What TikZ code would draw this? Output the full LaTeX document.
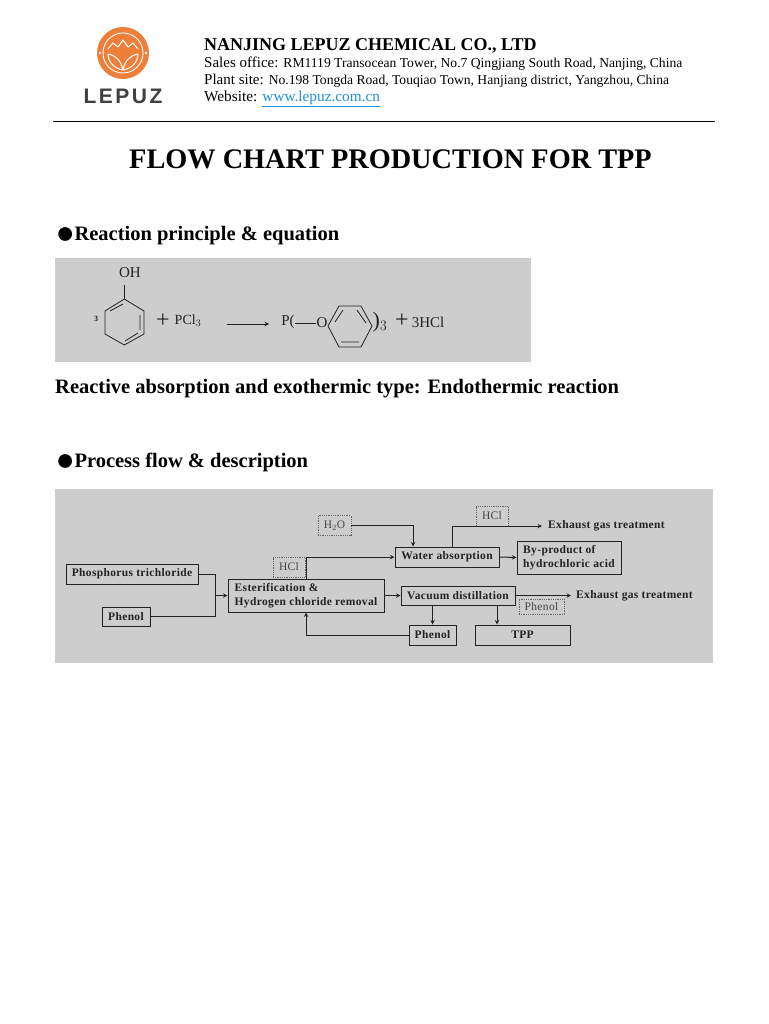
\documentclass[tikz,border=0pt]{standalone}
\usepackage{fontspec}
\setmainfont{Liberation Serif}
\newfontfamily\flowfont[LetterSpace=3]{Liberation Serif}
\newfontfamily\logofont[LetterSpace=12]{Liberation Sans}
\definecolor{panelgray}{HTML}{CDCDCD}
\definecolor{lepuzorange}{HTML}{EE7F3A}
\definecolor{inkdark}{HTML}{222222}
\definecolor{dashgray}{HTML}{666666}
\definecolor{linkblue}{HTML}{1E90D8}
\usepackage{tikz}
\newcommand{\bigdot}{\hspace{-1.5pt}\raisebox{-3pt}{\fontsize{32}{32}\selectfont ●}\hspace{-0.5pt}}

\begin{document}
\begin{tikzpicture}[x=1pt,y=-1pt,
    headtext/.style={anchor=west,inner sep=0pt,font=\fontsize{15}{17}\selectfont},
    sectext/.style={anchor=west,inner sep=0pt,font=\fontsize{20.5}{24}\selectfont\bfseries},
    procbox/.style={draw=inkdark,line width=1pt,inner sep=0pt,align=left,text=inkdark,
      font=\flowfont\fontsize{11.5}{13.5}\selectfont\bfseries},
    gasbox/.style={draw=dashgray,densely dotted,line width=0.8pt,inner sep=0pt,text=dashgray!70!black,
      font=\flowfont\fontsize{11.5}{13}\selectfont},
    chemtext/.style={inner sep=0pt,text=inkdark,font=\fontsize{14}{16}\selectfont},
    flow/.style={draw=inkdark,line width=1pt,-stealth},
    plain/.style={draw=inkdark,line width=1pt}]

    \useasboundingbox (0,0) rectangle (768,1024);

    % Logo
    \fill[lepuzorange] (123,53) circle (26);
    \draw[white,line width=0.9pt] (123,53) circle (20);
    \fill[white] (100,53) circle (1.3) (146,53) circle (1.3);
    \draw[white,line width=1pt,line join=round]
      (123,70) .. controls (112,68) and (108,60) .. (108,54)
      .. controls (115,55) and (121,60) .. (123,70)
      .. controls (134,68) and (138,60) .. (138,54)
      .. controls (131,55) and (125,60) .. (123,70);
    \draw[white,line width=1pt,line join=round]
      (108,49) -- (113,43) -- (118,47) -- (123,40) -- (128,47) -- (133,43) -- (138,49);
    \node[inner sep=0pt,text=black!75,font=\logofont\fontsize{21}{23}\selectfont\bfseries]
      (logotext) at (123,96) {LEPUZ};

    % Header
    \node[headtext,font=\fontsize{18}{20}\selectfont\bfseries] (company) at (204,45.5) {NANJING LEPUZ CHEMICAL CO., LTD};
    \node[headtext] (sales) at (204,63.5) {Sales office: {\fontsize{13.6}{16}\selectfont RM1119 Transocean Tower, No.7 Qingjiang South Road, Nanjing, China}};
    \node[headtext] (plant) at (204,80.5) {Plant site: {\fontsize{13.6}{16}\selectfont No.198 Tongda Road, Touqiao Town, Hanjiang district, Yangzhou, China}};
    \node[headtext,font=\fontsize{15.3}{17}\selectfont] (web) at (204,99) {Website: \textcolor{linkblue}{\underline{www.lepuz.com.cn}}};
    \draw[line width=0.7pt] (53,121) -- (715,121);

    \node[inner sep=0pt,font=\fontsize{28.3}{32}\selectfont\bfseries] (title) at (390.5,159) {FLOW CHART PRODUCTION FOR TPP};

    \node[sectext] (sec1) at (57,235.5) {\bigdot Reaction principle \& equation};
    \node[sectext] (sec2) at (55,388.5) {Reactive absorption and exothermic type: Endothermic reaction};
    \node[sectext] (sec3) at (57,462.5) {\bigdot Process flow \& description};

    % Equation panel
    \fill[panelgray] (55,258) rectangle (531,362);

    \draw[inkdark,line width=0.8pt] (124.3,299) -- (144,311) -- (144,334) -- (124.3,345)
      -- (105,334) -- (105,311) -- cycle;
    \draw[inkdark,line width=0.8pt] (124.3,299) -- (124.3,285);
    \draw[inkdark,line width=0.8pt] (140,315) -- (140,330) (125,341) -- (138,333) (110,311) -- (123,304);
    \node[chemtext,font=\fontsize{15}{17}\selectfont] (oh) at (130,273) {OH};
    \node[chemtext,font=\fontsize{8}{9}\selectfont\bfseries] (three) at (96,319) {3};
    \node[chemtext,font=\fontsize{24}{26}\selectfont] (plus1) at (163,321) {+};
    \node[chemtext] (pcl) at (188,321) {PCl$_3$};
    \coordinate (arrstart) at (227,324);
    \coordinate (arrend) at (269,324);
    \draw[flow] (arrstart) -- (arrend);
    \node[chemtext,font=\fontsize{15}{17}\selectfont] (pp) at (288,322) {P(};
    \node[chemtext,font=\fontsize{15}{17}\selectfont] (oo) at (322,323) {O};
    \draw[inkdark,line width=0.8pt] (pp.east) ++(0,1) -- (oo.west);
    \draw[inkdark,line width=0.8pt] (328,326) -- (339,306) -- (361,306) -- (372,326) -- (361,347) -- (339,347) -- cycle;
    \draw[inkdark,line width=0.8pt] (335,322) -- (343,310) (357,310) -- (366,323) (341,342) -- (359,342);
    \node[chemtext,font=\fontsize{22}{24}\selectfont] (close) at (380,322) {)$_3$};
    \node[chemtext,font=\fontsize{24}{26}\selectfont] (plus2) at (402,321) {+};
    \node[chemtext,font=\fontsize{15}{17}\selectfont] (hcl3) at (428,322) {3HCl};

    % Flow panel
    \fill[panelgray] (55,489) rectangle (713,663);

    \node[procbox,minimum width=132pt,minimum height=20pt] (phos) at (132,574) {Phosphorus trichloride};
    \node[procbox,minimum width=48pt,minimum height=19pt] (phenolin) at (126,616.5) {Phenol};
    \node[procbox,minimum width=156pt,minimum height=33pt,font=\flowfont\fontsize{11.5}{14}\selectfont\bfseries] (ester) at (306,595.5)
      {Esterification \&\\Hydrogen chloride removal};
    \node[gasbox,minimum width=32pt,minimum height=20pt] (hclone) at (289,567) {HCl};
    \node[gasbox,minimum width=33pt,minimum height=20pt] (water) at (334.5,525.5) {H$_2$O};
    \node[procbox,minimum width=104pt,minimum height=20pt] (absorb) at (447,557) {Water absorption};
    \node[procbox,minimum width=104pt,minimum height=33pt] (byprod) at (569,557.5) {By-product of\\hydrochloric acid};
    \node[gasbox,minimum width=32pt,minimum height=20pt] (hcltwo) at (492,516) {HCl};
    \node[procbox,minimum width=114pt,minimum height=19pt] (vacuum) at (458,595.5) {Vacuum distillation};
    \node[gasbox,minimum width=45pt,minimum height=15pt] (phenolgas) at (541.5,606.5) {Phenol};
    \node[procbox,minimum width=47pt,minimum height=20pt] (phenolout) at (432.5,635) {Phenol};
    \node[procbox,minimum width=95pt,minimum height=20pt] (tpp) at (522.5,635) {TPP};
    \node[anchor=west,inner sep=0pt,text=inkdark,font=\flowfont\fontsize{11.5}{13}\selectfont\bfseries] (exhaustone) at (548,526) {Exhaust gas treatment};
    \node[anchor=west,inner sep=0pt,text=inkdark,font=\flowfont\fontsize{11.5}{13}\selectfont\bfseries] (exhausttwo) at (576,595.5) {Exhaust gas treatment};

    % Junction points
    \coordinate (merge) at (215,595.5);
    \coordinate (wtop) at (413,526);
    \coordinate (hclturn) at (306,557);
    \coordinate (upturn) at (452,526);
    \coordinate (tppdrop) at (497,605);

    \draw[plain] (phos.east) -| (merge);
    \draw[plain] (phenolin.east) -| (merge);
    \draw[flow] (merge) -- (ester.west);
    \draw[flow] (water.east) -| (absorb.north -| wtop);
    \draw[flow] (ester.north -| hclturn) -- (hclturn) -- (hclturn -| absorb.west);
    \draw[flow] (absorb.north -| upturn) -- (upturn) -- ([xshift=-6pt]exhaustone.west);
    \draw[flow] (absorb.east) -- (byprod.west);
    \draw[flow] (ester.east |- vacuum.west) -- (vacuum.west);
    \draw[flow] (vacuum.east) -- ([xshift=-5pt]exhausttwo.west);
    \draw[flow] (vacuum.south -| phenolout.north) -- (phenolout.north);
    \draw[flow] (tppdrop) -- (tppdrop |- tpp.north);
    \draw[flow] (phenolout.west) -| (ester.south);
  \end{tikzpicture}
\end{document}
